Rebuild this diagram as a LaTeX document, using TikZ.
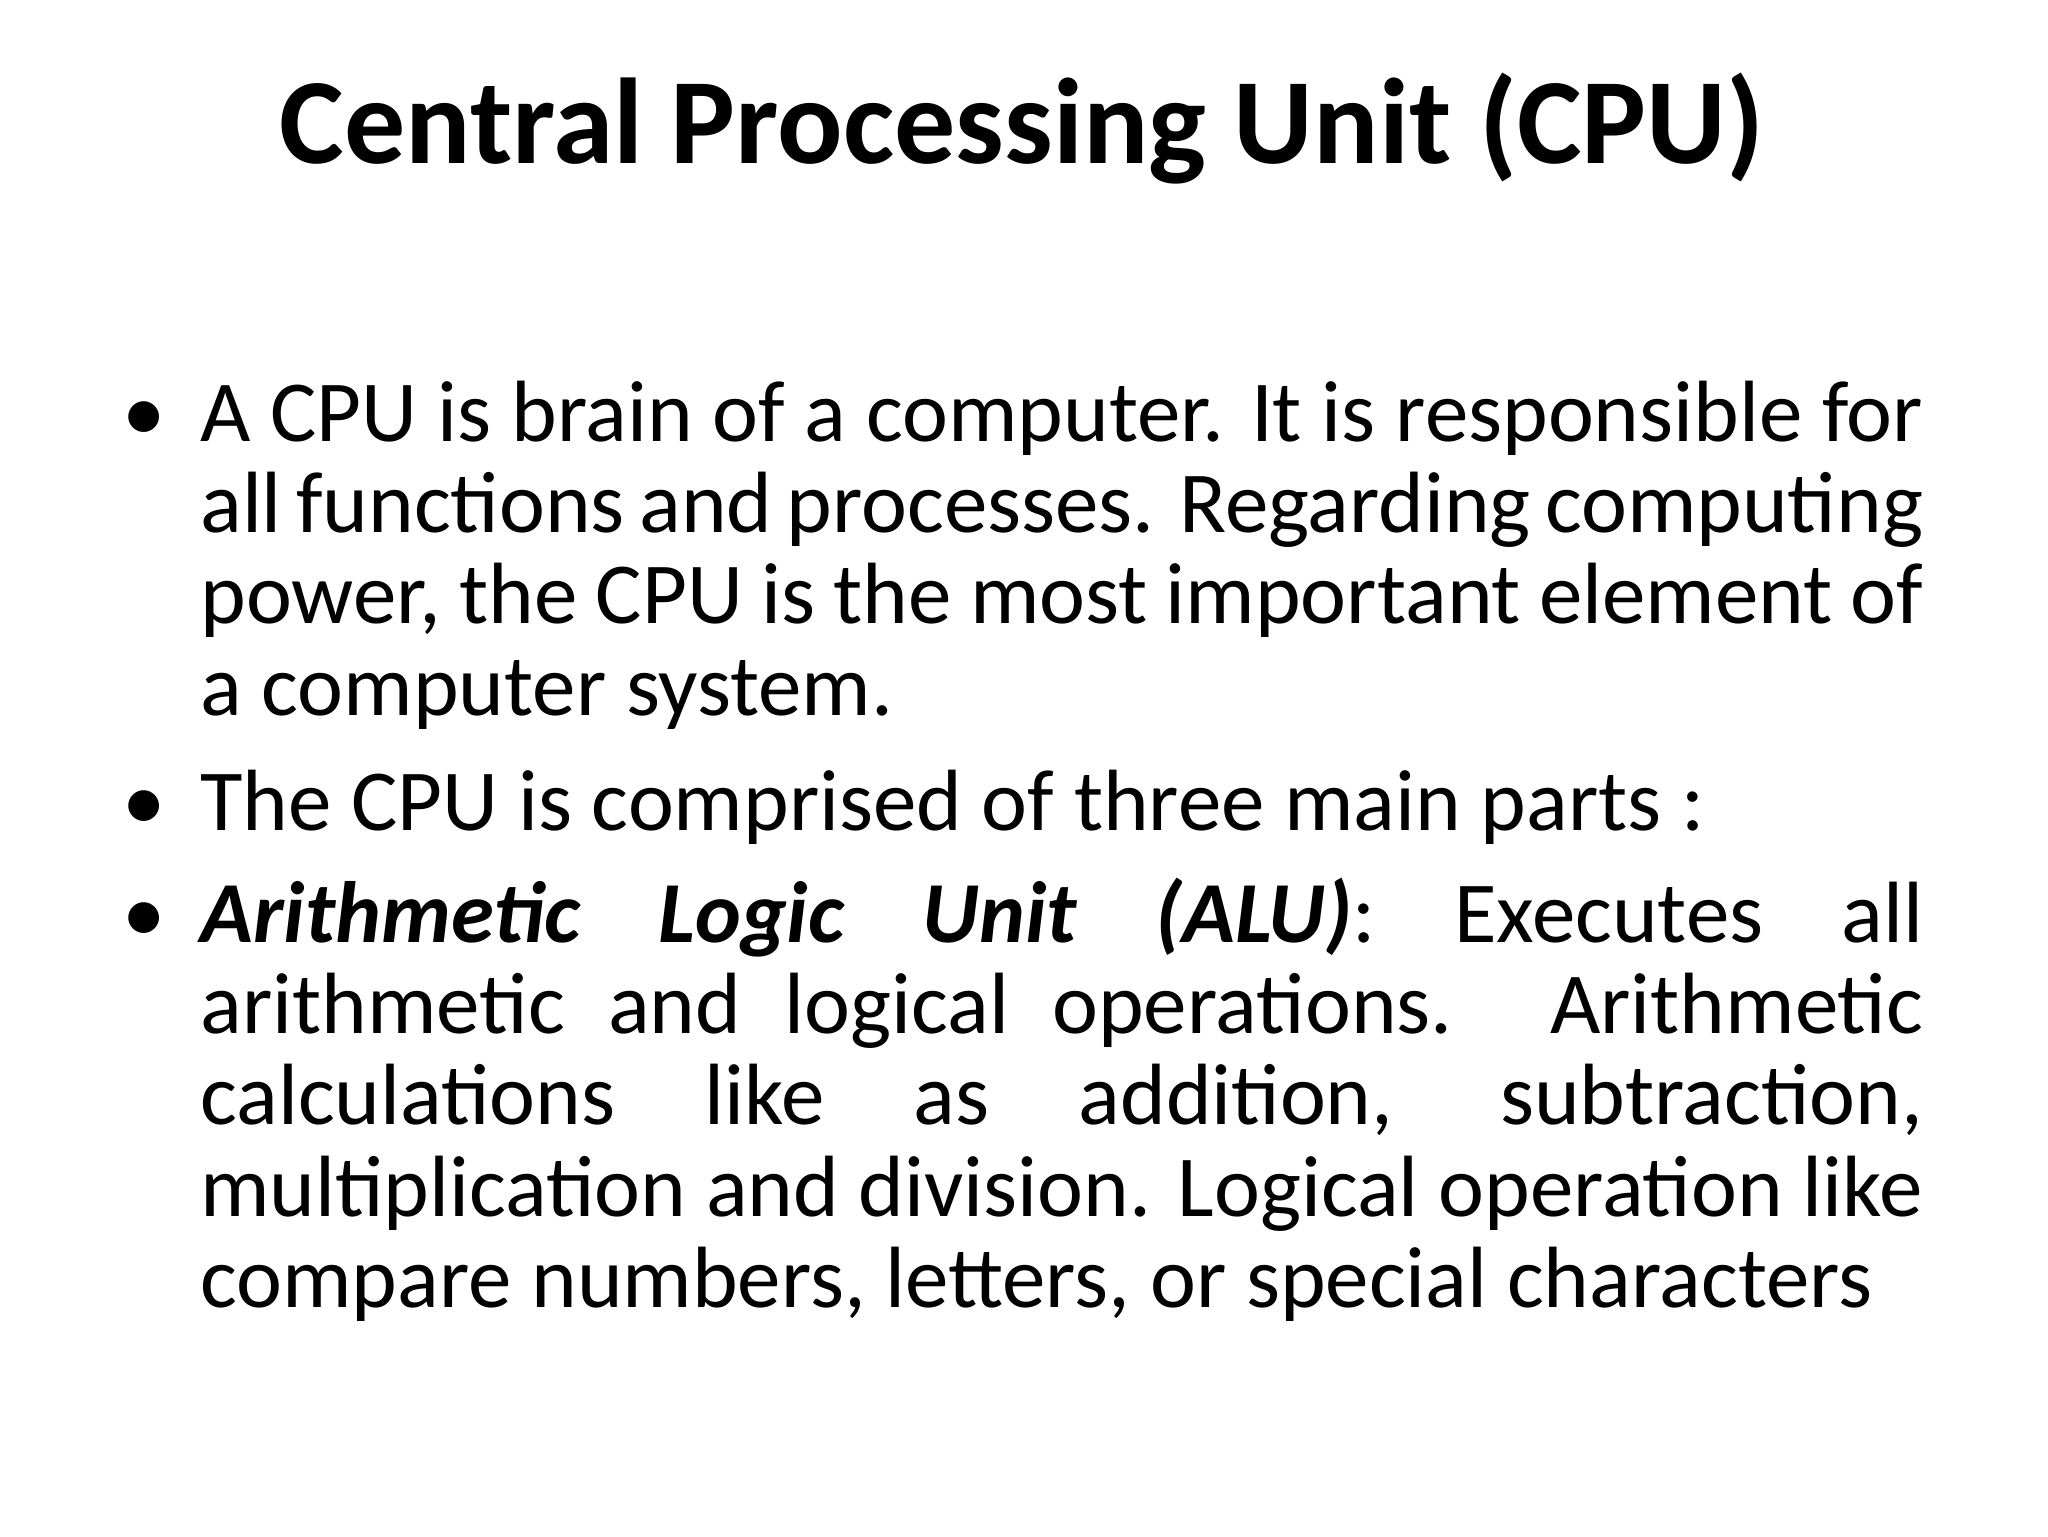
\documentclass[tikz,border=0pt]{standalone}
\usepackage{fontspec}
\setmainfont{Carlito}
\begin{document}
\begin{tikzpicture}[x=1pt,y=-1pt,
  para/.style={anchor=base west,inner sep=0pt,text width=861.5pt,align=justify,
    font=\fontsize{43.5pt}{45.7pt}\selectfont},
  bul/.style={anchor=base,inner sep=0pt,font=\fontsize{43.5pt}{45.7pt}\selectfont}]
\useasboundingbox[fill=white] (0,0) rectangle (1024,768);
\node[anchor=base,inner sep=0pt,font=\fontsize{61pt}{70pt}\selectfont\bfseries] (title) at (511,81.5) {Central Processing Unit (CPU)};
\node[bul] (b1) at (72,220.5) {•};
\node[para] (p1) at (100,220.5) {A CPU is brain of a computer. It is responsible for\linebreak all functions and processes. Regarding computing\linebreak power, the CPU is the most important element of\linebreak a computer system.};
\node[bul] (b2) at (72,415) {•};
\node[para] (p2) at (100,415) {The CPU is comprised of three main parts :};
\node[bul] (b3) at (72,471) {•};
\node[para] (p3) at (100,471) {\textbf{\textit{Arithmetic Logic Unit (ALU)}}: Executes all\linebreak arithmetic and logical operations. Arithmetic\linebreak calculations like as addition, subtraction,\linebreak multiplication and division. Logical operation like\linebreak compare numbers, letters, or special characters};
\end{tikzpicture}
\end{document}
